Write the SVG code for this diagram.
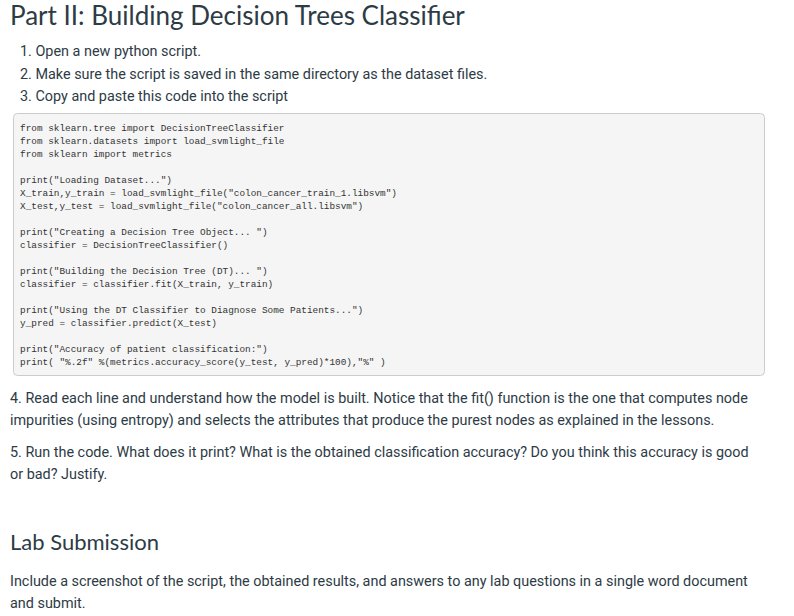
<svg xmlns="http://www.w3.org/2000/svg" width="794" height="616" viewBox="0 0 794 616">
<style>
.t{font-family:Lato,"Liberation Sans",sans-serif;fill:#2d3b45}
.b{font-family:Roboto,"Liberation Sans",sans-serif;font-size:14.4px}
.c{font-family:"Liberation Mono",monospace;font-size:9.4px;fill:#333}
</style>
<rect width="794" height="616" fill="#fff"/>
<text class="t" x="10" y="25" font-size="26">Part II: Building Decision Trees Classifier</text>
<g class="t b">
<text x="20" y="56">1. Open a new python script.</text>
<text x="20" y="79">2. Make sure the script is saved in the same directory as the dataset files.</text>
<text x="20" y="101">3. Copy and paste this code into the script</text>
</g>
<rect x="13.5" y="113.5" width="751" height="262" rx="4" fill="#f5f5f5" stroke="#ccc"/>
<g class="c">
<text x="20" y="131">from sklearn.tree import DecisionTreeClassifier</text>
<text x="20" y="144">from sklearn.datasets import load_svmlight_file</text>
<text x="20" y="157">from sklearn import metrics</text>
<text x="20" y="183">print("Loading Dataset...")</text>
<text x="20" y="196">X_train,y_train = load_svmlight_file("colon_cancer_train_1.libsvm")</text>
<text x="20" y="209">X_test,y_test = load_svmlight_file("colon_cancer_all.libsvm")</text>
<text x="20" y="235">print("Creating a Decision Tree Object... ")</text>
<text x="20" y="248">classifier = DecisionTreeClassifier()</text>
<text x="20" y="274">print("Building the Decision Tree (DT)... ")</text>
<text x="20" y="287">classifier = classifier.fit(X_train, y_train)</text>
<text x="20" y="313">print("Using the DT Classifier to Diagnose Some Patients...")</text>
<text x="20" y="326">y_pred = classifier.predict(X_test)</text>
<text x="20" y="352">print("Accuracy of patient classification:")</text>
<text x="20" y="365">print( "%.2f" %(metrics.accuracy_score(y_test, y_pred)*100),"%" )</text>
</g>
<g class="t b">
<text x="10" y="403">4. Read each line and understand how the model is built. Notice that the fit() function is the one that computes node</text>
<text x="10" y="425">impurities (using entropy) and selects the attributes that produce the purest nodes as explained in the lessons.</text>
<text x="10" y="457">5. Run the code. What does it print? What is the obtained classification accuracy? Do you think this accuracy is good</text>
<text x="10" y="479">or bad? Justify.</text>
</g>
<text class="t" x="10" y="550" font-size="22">Lab Submission</text>
<g class="t b">
<text x="10" y="586">Include a screenshot of the script, the obtained results, and answers to any lab questions in a single word document</text>
<text x="10" y="608">and submit.</text>
</g>
</svg>
